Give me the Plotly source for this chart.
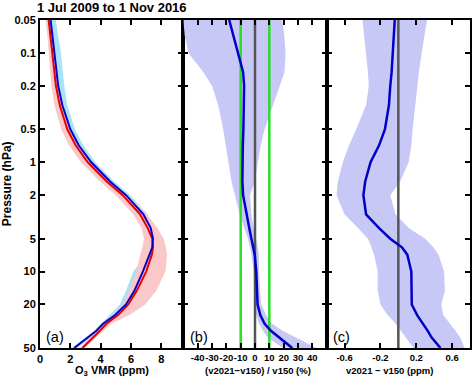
import plotly.graph_objects as go

# ---------------- data ----------------
pressure = [0.05, 0.07, 0.1, 0.15, 0.2, 0.3, 0.5, 0.7, 1, 1.5, 2, 3, 4, 5, 6, 7,
            10, 15, 20, 25, 30, 35, 40, 50]

# panel (a): O3 VMR (ppm)
v150_mean = [0.57, 0.69, 0.82, 0.93, 1.05, 1.30, 1.80, 2.35, 3.15, 4.40, 5.45, 6.60,
             7.10, 7.40, 7.45, 7.38, 7.00, 6.38, 5.82, 5.15, 4.38, 3.93, 3.49, 2.80]
v150_low = [0.40, 0.50, 0.60, 0.68, 0.75, 0.95, 1.40, 1.90, 2.70, 3.95, 5.00, 6.15,
            6.70, 6.85, 6.75, 6.60, 6.35, 5.90, 5.45, 4.80, 4.15, 3.70, 3.30, 2.60]
v150_high = [0.75, 0.87, 1.00, 1.12, 1.25, 1.52, 2.05, 2.62, 3.45, 4.70, 5.75, 7.05,
             7.75, 8.15, 8.30, 8.38, 8.27, 7.67, 6.93, 5.90, 4.70, 4.20, 3.70, 2.95]
v2021_mean = [0.70, 0.82, 0.95, 1.09, 1.20, 1.47, 2.00, 2.55, 3.38, 4.62, 5.67, 6.82,
              7.30, 7.45, 7.40, 7.22, 6.78, 6.22, 5.67, 4.95, 4.16, 3.70, 3.15, 2.25]
v2021_low = [0.38, 0.50, 0.62, 0.80, 0.95, 1.25, 1.80, 2.35, 3.15, 4.40, 5.45, 6.60,
             7.10, 7.25, 7.20, 7.00, 6.15, 5.67, 5.27, 4.60, 4.00, 3.55, 3.00, 2.10]
v2021_high = [1.05, 1.20, 1.38, 1.50, 1.60, 1.80, 2.30, 2.85, 3.65, 4.90, 5.95, 7.10,
              7.60, 7.70, 7.65, 7.50, 7.00, 6.45, 5.90, 5.20, 4.40, 3.90, 3.35, 2.45]

# panel (b): relative difference (%)
rel_mean = [-18, -15, -11.8, -8.3, -7.6, -7.6, -8.1, -8.5, -8.8, -8.8, -8.3, -6.0,
            -4.0, -2.5, -1.2, -0.2, 0.9, 1.4, 1.8, 3.7, 6.7, 11.3, 17.0, 26.0]
rel_low = [-50, -49, -46.5, -36, -30, -25.7, -22.2, -20.5, -18.8, -16.4, -14.0, -10.6,
           -7.5, -4.9, -3.5, -2.5, -0.9, -0.5, -0.2, 0.9, 2.8, 5.6, 9.0, 19.5]
rel_high = [19, 20.5, 21.3, 20.6, 17, 12.5, 6.7, 4.0, 2.1, -0.2, -3.5, -2.5,
            -1.0, 0.5, 2.0, 2.8, 2.8, 3.5, 4.4, 7.8, 12.0, 19.5, 28.7, 42.6]
rel_limits = [-10, 10]

# panel (c): absolute difference (ppm)
abs_mean = [-0.04, -0.05, -0.06, -0.075, -0.09, -0.105, -0.15, -0.215, -0.31, -0.37,
            -0.39, -0.36, -0.215, -0.09, 0.04, 0.10, 0.145, 0.145, 0.15, 0.21, 0.28,
            0.33, 0.37, 0.47]
abs_low = [-0.40, -0.38, -0.36, -0.34, -0.33, -0.36, -0.47, -0.55, -0.62, -0.675,
           -0.69, -0.60, -0.45, -0.34, -0.30, -0.27, -0.23, -0.23, -0.20, -0.12,
           -0.03, 0.03, 0.08, 0.17]
abs_high = [0.32, 0.29, 0.26, 0.23, 0.21, 0.19, 0.16, 0.145, 0.116, 0.02,
            -0.09, -0.03, 0.116, 0.30, 0.39, 0.45, 0.51, 0.52, 0.48, 0.50,
            0.58, 0.64, 0.69, 0.74]

zero_line = [0]

p_ticks = [0.05, 0.1, 0.2, 0.5, 1, 2, 5, 10, 20, 50]
p_ticktext = ["0.05", "0.1", "0.2", "0.5", "1", "2", "5", "10", "20", "50"]
a_ticks = [0, 2, 4, 6, 8]
b_ticks = [-40, -30, -20, -10, 0, 10, 20, 30, 40]
c_ticks = [-0.6, -0.2, 0.2, 0.6]

# ---------------- figure ----------------
FONT = "Liberation Sans, Arial, sans-serif"
p_span = [pressure[0], pressure[-1]]

fig = go.Figure()


def band(low, high, color, xa, ya):
    fig.add_trace(go.Scatter(
        x=list(low) + list(high)[::-1], y=pressure + pressure[::-1],
        fill="toself", fillcolor=color, line=dict(width=0), mode="lines",
        hoverinfo="skip", showlegend=False, xaxis=xa, yaxis=ya))


def line(x, color, width, xa, ya, y=None):
    fig.add_trace(go.Scatter(
        x=x, y=pressure if y is None else y, mode="lines",
        line=dict(color=color, width=width), showlegend=False, xaxis=xa, yaxis=ya))


# panel a
band(v2021_low, v2021_high, "rgb(168,226,245)", "x", "y")
band(v150_low, v150_high, "rgb(250,200,200)", "x", "y")
line(v150_mean, "rgb(230,0,0)", 2, "x", "y")
line(v2021_mean, "rgb(10,0,200)", 2, "x", "y")

# panel b
band(rel_low, rel_high, "rgb(200,200,246)", "x2", "y2")
for v in rel_limits:
    line([v, v], "rgb(40,220,40)", 2.5, "x2", "y2", y=p_span)
line([zero_line[0]] * 2, "rgb(85,85,85)", 2.5, "x2", "y2", y=p_span)
line(rel_mean, "rgb(0,0,200)", 2.5, "x2", "y2")

# panel c
band(abs_low, abs_high, "rgb(200,200,246)", "x3", "y3")
line([zero_line[0]] * 2, "rgb(85,85,85)", 2.5, "x3", "y3", y=p_span)
line(abs_mean, "rgb(0,0,200)", 2.5, "x3", "y3")

tickfont = dict(family=FONT, size=11, color="black", weight="bold")
tickfont_s = dict(family=FONT, size=9.5, color="black", weight="bold")

axis_common = dict(showline=True, linecolor="black", linewidth=2, mirror="ticks",
                   ticks="inside", ticklen=5, tickwidth=2, tickcolor="black",
                   showgrid=False, zeroline=False)

yax = dict(type="log", range=[1.69897, -1.30103], tickvals=p_ticks,
           ticktext=p_ticktext, **axis_common)

doms = [[0, 1 / 3], [1 / 3, 2 / 3], [2 / 3, 1]]

fig.update_layout(
    width=474, height=381,
    margin=dict(l=40, r=2, t=20, b=33),
    paper_bgcolor="white", plot_bgcolor="white",
    showlegend=False,
    xaxis=dict(domain=doms[0], range=[0, 9.45], tickvals=a_ticks,
               ticktext=[str(t) for t in a_ticks], tickfont=tickfont, tickangle=0,
               anchor="y", **axis_common),
    xaxis2=dict(domain=doms[1], range=[-50, 50], tickvals=b_ticks,
                ticktext=[str(t) for t in b_ticks], tickfont=tickfont_s, tickangle=0,
                anchor="y2", **axis_common),
    xaxis3=dict(domain=doms[2], range=[-0.8, 0.8], tickvals=c_ticks,
                ticktext=[f"{t:.1f}" for t in c_ticks], tickfont=tickfont_s, tickangle=0,
                anchor="y3", **axis_common),
    yaxis=dict(anchor="x", tickfont=tickfont, **yax),
    yaxis2=dict(anchor="x2", showticklabels=False, **yax),
    yaxis3=dict(anchor="x3", showticklabels=False, **yax),
)

ann = []
ann.append(dict(text="1 Jul 2009 to 1 Nov 2016", xref="paper", yref="paper",
                x=-0.0116, y=1.038, xanchor="left", yanchor="middle", showarrow=False,
                font=dict(family=FONT, size=13, color="black", weight="bold")))
ann.append(dict(text="Pressure (hPa)", xref="paper", yref="paper", x=-0.0764, y=0.5,
                xanchor="center", yanchor="middle", textangle=-90, showarrow=False,
                font=dict(family=FONT, size=12, color="black", weight="bold")))
xt = [("O<sub>3</sub> VMR (ppm)", "x domain", 0.5, 11),
      ("(v2021\u2212v150) / v150 (%)", "x2 domain", 0.524, 9.5),
      ("v2021 \u2212 v150 (ppm)", "x3 domain", 0.44, 9.5)]
for t, xr, xv, fs in xt:
    ann.append(dict(text=t, xref=xr, yref="paper", x=xv, y=-0.070, xanchor="center",
                    yanchor="middle", showarrow=False,
                    font=dict(family=FONT, size=fs, color="black", weight="bold")))
for lab, xr, yr in [("(a)", "x domain", "y domain"), ("(b)", "x2 domain", "y2 domain"),
                    ("(c)", "x3 domain", "y3 domain")]:
    ann.append(dict(text=lab, xref=xr, yref=yr, x=0.03, y=0.034, xanchor="left",
                    yanchor="middle", showarrow=False,
                    font=dict(family=FONT, size=14.5, color="black")))
fig.update_layout(annotations=ann)

fig.write_html("out.html", config={"displayModeBar": False},
               post_script="document.body.style.margin='0';document.body.style.overflow='hidden';")
